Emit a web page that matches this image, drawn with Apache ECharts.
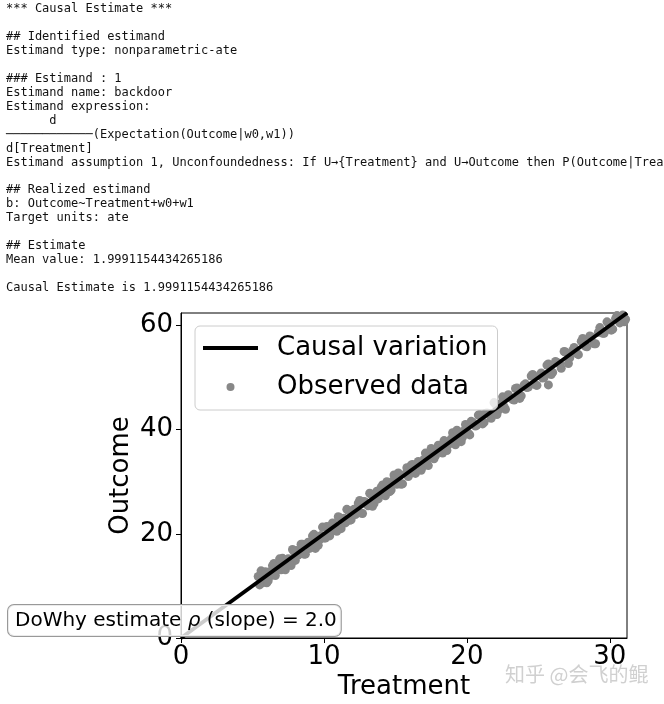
<!DOCTYPE html>
<html>
<head>
<meta charset="utf-8">
<script src="https://cdn.jsdelivr.net/npm/echarts@6/dist/echarts.min.js"></script>
<style>
  html, body { margin: 0; padding: 0; background: #fff; }
  #main { width: 664px; height: 704px; }
</style>
</head>
<body>
<div id="main"></div>
<script>
// printed output above the plot
var logLines = [
  '*** Causal Estimate ***',
  '',
  '## Identified estimand',
  'Estimand type: nonparametric-ate',
  '',
  '### Estimand : 1',
  'Estimand name: backdoor',
  'Estimand expression:',
  '      d',
  '────────────(Expectation(Outcome|w0,w1))',
  'd[Treatment]',
  'Estimand assumption 1, Unconfoundedness: If U→{Treatment} and U→Outcome then P(Outcome|Treatment,w0,w1,U) = P(Outcome|Treatment,w0,w1)',
  '',
  '## Realized estimand',
  'b: Outcome~Treatment+w0+w1',
  'Target units: ate',
  '',
  '## Estimate',
  'Mean value: 1.9991154434265186',
  '',
  'Causal Estimate is 1.9991154434265186'
];

var treatment = [
  5.7, 5.9, 6.0, 6.2, 6.3, 6.5, 6.6, 6.8, 7.0, 7.1,
  7.3, 7.5, 7.6, 7.8, 8.0, 8.1, 8.3, 8.5, 8.7, 8.8,
  9.0, 9.2, 9.4, 9.5, 9.7, 9.9, 10.1, 10.3, 10.4, 10.6,
  10.8, 11.0, 11.2, 11.4, 11.5, 11.7, 11.9, 12.1, 12.3, 12.5,
  12.7, 12.9, 13.1, 13.3, 13.5, 13.7, 13.9, 14.1, 14.3, 14.5,
  14.7, 14.9, 15.1, 15.3, 15.5, 15.8, 16.0, 16.2, 16.4, 16.7,
  16.9, 17.1, 17.3, 17.6, 17.8, 18.0, 18.3, 18.5, 18.7, 19.0,
  19.2, 19.4, 19.7, 19.9, 20.2, 20.4, 20.7, 20.9, 21.2, 21.4,
  21.7, 22.0, 22.2, 22.5, 22.7, 23.0, 23.3, 23.5, 23.8, 24.1,
  24.3, 24.6, 24.9, 25.2, 25.4, 25.7, 26.0, 26.3, 26.6, 26.9,
  27.2, 27.5, 27.8, 28.1, 28.4, 28.7, 29.0, 29.3, 29.6, 29.9,
  30.2, 30.5, 30.8, 31.0, 25.7, 5.4, 5.5, 5.6,
  5.8, 6.1, 6.4, 6.7, 6.9, 7.2, 7.4, 7.7, 7.9, 8.2,
  8.4, 8.6, 8.9, 9.1, 9.3, 9.6, 9.8, 10.0, 10.2, 10.5,
  10.7, 10.9, 11.1, 11.3, 11.6, 11.8, 12.0, 12.2, 12.4, 12.6,
  12.8, 13.0, 13.2, 13.4, 13.6, 13.8, 14.0, 14.2, 14.4, 14.6,
  14.8, 15.0, 15.2, 15.4, 15.7, 15.9, 16.1, 16.3, 16.6, 16.8,
  17.0, 17.2, 17.5, 17.7, 17.9, 18.2, 18.4, 18.6, 18.9, 19.1,
  19.3, 19.6, 19.8, 20.1, 20.3, 20.6, 20.8, 21.1, 21.3, 21.6,
  21.9, 22.1, 22.4, 22.6, 22.9, 23.2, 23.4, 23.7, 24.0, 24.2,
  24.5, 24.8, 25.1, 25.3, 25.6, 25.9, 26.2, 26.5, 26.8, 27.1,
  27.4, 27.7, 28.0, 28.3, 28.6, 28.9, 29.2, 29.5, 29.8, 30.1,
  30.4, 30.7, 30.9, 31.1
];
var outcome = [
  10.6, 12.7, 10.6, 12.7, 12.0, 14.3, 12.0, 14.1, 13.1, 15.3,
  13.1, 15.2, 14.5, 17.0, 14.9, 16.8, 16.2, 18.0, 16.1, 18.0,
  17.2, 19.6, 17.2, 19.1, 18.9, 21.3, 19.2, 21.3, 19.6, 22.1,
  21.3, 23.3, 21.0, 23.0, 22.1, 24.5, 22.7, 24.7, 24.0, 26.4,
  23.9, 26.1, 25.4, 27.6, 25.8, 28.2, 27.4, 29.4, 27.3, 29.4,
  28.4, 31.3, 29.5, 31.2, 29.6, 32.7, 31.5, 33.3, 31.6, 33.6,
  32.9, 35.5, 33.1, 35.7, 35.0, 37.0, 35.5, 37.7, 37.1, 39.4,
  37.1, 39.1, 38.6, 41.0, 39.0, 41.4, 40.9, 42.9, 41.4, 43.2,
  42.2, 44.9, 43.7, 46.3, 43.9, 46.2, 45.7, 48.0, 46.5, 48.8,
  48.2, 50.6, 48.5, 50.9, 50.0, 52.6, 51.0, 52.9, 51.8, 54.9,
  53.8, 55.8, 54.4, 57.5, 55.9, 57.8, 56.5, 59.6, 58.5, 60.4,
  59.3, 61.9, 61.1, 60.7, 48.6, 11.8, 10.2, 12.9,
  12.1, 11.0, 13.9, 13.1, 15.2, 13.5, 15.0, 13.9, 16.6, 15.9,
  18.0, 16.1, 18.4, 18.0, 19.9, 17.8, 19.7, 19.2, 21.4, 20.4,
  21.8, 20.5, 23.1, 22.5, 24.7, 22.6, 24.3, 23.7, 25.9, 24.0,
  26.2, 25.6, 27.8, 25.3, 27.4, 26.7, 28.9, 27.9, 30.0, 28.1,
  30.1, 29.8, 31.7, 29.5, 31.5, 31.0, 33.2, 32.0, 33.9, 32.2,
  34.3, 34.1, 36.4, 34.4, 36.4, 35.7, 37.9, 36.0, 38.2, 37.8,
  39.9, 37.7, 39.8, 39.3, 41.6, 40.7, 42.8, 41.1, 43.1, 43.0,
  45.2, 42.9, 45.1, 44.4, 46.7, 45.8, 47.9, 46.0, 48.6, 48.1,
  50.3, 48.6, 50.4, 49.9, 52.4, 50.6, 53.1, 52.6, 55.0, 52.7,
  55.2, 54.6, 57.0, 56.0, 58.0, 56.5, 58.7, 58.5, 60.7, 59.1,
  61.3, 60.5, 62.0, 61.2
];

// causal line, slope = 2.0
var lineX = [0, 31.2];
var lineY = [0, 62.4];
var slope = 2.0;

var chartDom = document.getElementById('main');
var myChart = echarts.init(chartDom);
var option;

var scatterData = treatment.map(function (x, i) { return [x, outcome[i]]; });
var lineData = lineX.map(function (x, i) { return [x, lineY[i]]; });

option = {
  animation: false,
  backgroundColor: '#fff',
  textStyle: { fontFamily: 'DejaVu Sans' },
  grid: {
    left: 181, top: 313, right: 37, bottom: 66,
    show: true, borderColor: '#000', borderWidth: 1, backgroundColor: 'transparent'
  },
  legend: {
    orient: 'vertical',
    left: 195, top: 326,
    padding: [9, 10, 10, 8],
    itemGap: 13,
    itemWidth: 55,
    itemHeight: 8,
    backgroundColor: 'rgba(255,255,255,0.8)',
    borderColor: '#cccccc',
    borderWidth: 1,
    borderRadius: 5,
    textStyle: { fontSize: 26, color: '#000', fontFamily: 'DejaVu Sans', padding: [0, 0, 0, 14] },
    data: [
      { name: 'Causal variation', icon: 'path://M0,0L55,0L55,4L0,4Z', itemStyle: { color: '#000' } },
      { name: 'Observed data', icon: 'circle', itemStyle: { color: '#888888' } }
    ],
    z: 10
  },
  xAxis: {
    type: 'value',
    min: 0, max: 31.2, interval: 10,
    name: 'Treatment',
    nameLocation: 'middle',
    nameGap: 36,
    nameTextStyle: { fontSize: 26, color: '#000' },
    axisLine: { show: true, lineStyle: { color: '#000', width: 1 } },
    axisTick: { show: true, inside: false, length: 5, lineStyle: { color: '#000' } },
    axisLabel: { fontSize: 26, color: '#000', margin: 6, showMaxLabel: false },
    splitLine: { show: false }
  },
  yAxis: {
    type: 'value',
    min: 0, max: 62.4, interval: 20,
    name: 'Outcome',
    nameLocation: 'middle',
    nameGap: 47,
    nameMoveOverlap: false,
    nameTextStyle: { fontSize: 26, color: '#000' },
    axisLine: { show: true, lineStyle: { color: '#000', width: 1 } },
    axisTick: { show: true, inside: false, length: 5, lineStyle: { color: '#000' } },
    axisLabel: { fontSize: 26, color: '#000', margin: 8, showMaxLabel: false },
    splitLine: { show: false }
  },
  series: [
    {
      name: 'Observed data',
      type: 'scatter',
      symbolSize: 9,
      itemStyle: { color: '#888888', opacity: 1 },
      data: scatterData,
      z: 2
    },
    {
      name: 'Causal variation',
      type: 'line',
      showSymbol: false,
      symbol: 'none',
      lineStyle: { color: '#000', width: 4 },
      itemStyle: { color: '#000' },
      data: lineData,
      z: 3
    }
  ],
  graphic: [
    {
      type: 'text',
      left: 6, top: 2,
      silent: true,
      style: {
        text: logLines.join('\n'),
        font: '12px "DejaVu Sans Mono"',
        lineHeight: 13.95,
        fill: '#111'
      }
    },
    {
      type: 'text',
      left: 7, top: 604,
      z: 20,
      style: {
        text: 'DoWhy estimate {i|ρ} (slope) = ' + slope.toFixed(1),
        rich: { i: { fontStyle: 'italic', fontSize: 20, fontFamily: 'DejaVu Sans', fill: '#000' } },
        font: '20px "DejaVu Sans"',
        fill: '#000',
        backgroundColor: 'rgba(255,255,255,0.8)',
        borderColor: '#999999',
        borderWidth: 1,
        borderRadius: 6,
        padding: [6, 4, 5, 7]
      }
    },
    {
      type: 'text',
      left: 505, top: 664,
      z: 20,
      style: {
        text: '知乎 @会飞的鲲',
        font: '20px "Noto Sans CJK SC"',
        fill: '#d0d0d0'
      }
    }
  ]
};

option && myChart.setOption(option);
</script>
</body>
</html>
